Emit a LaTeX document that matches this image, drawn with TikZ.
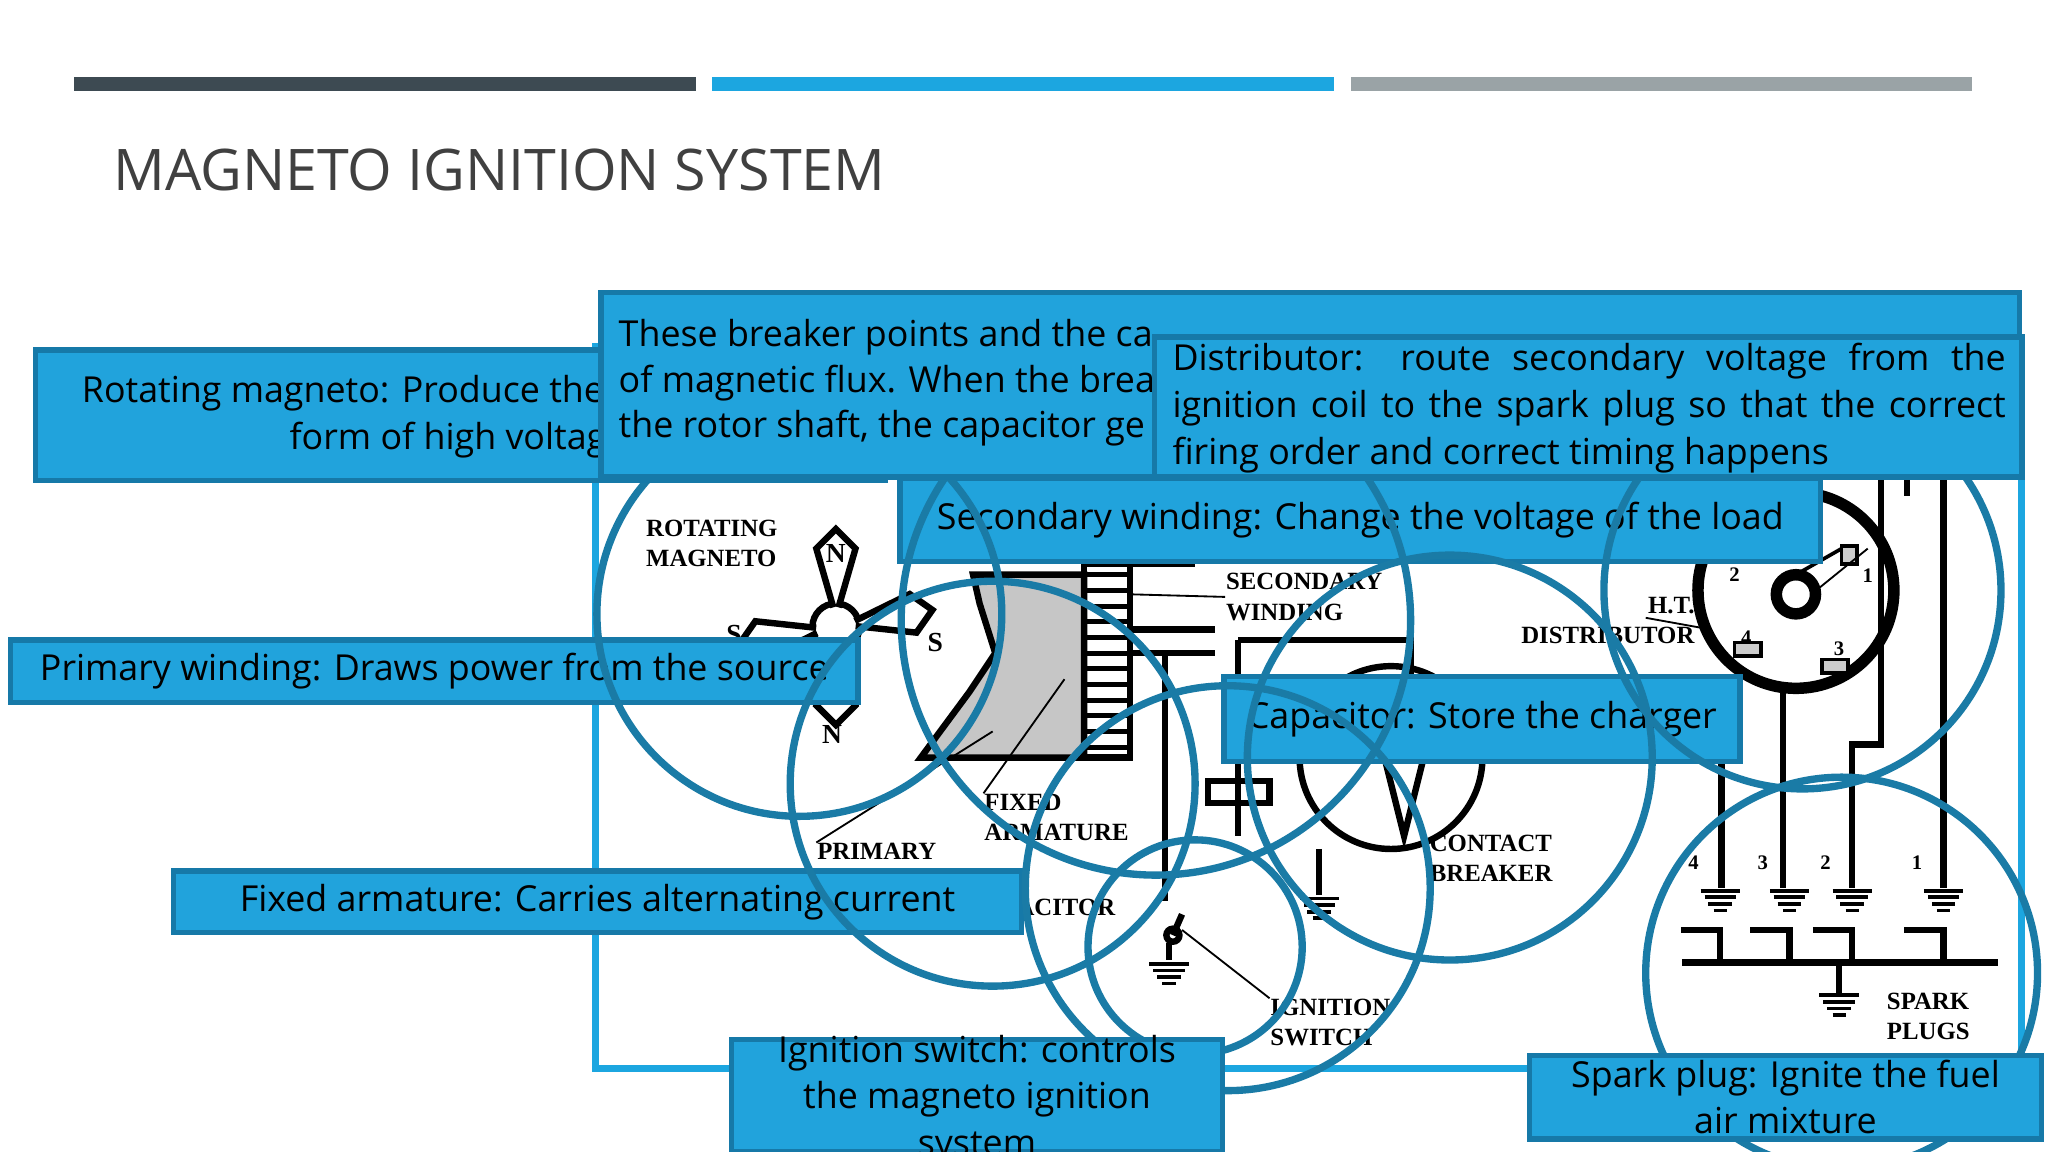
\documentclass[tikz,border=0pt]{standalone}
\usepackage{fontspec}
\setmainfont{Open Sans}
\newfontfamily\partfont{Liberation Serif}
\usetikzlibrary{positioning}
\definecolor{bardark}{HTML}{3D4A52}
\definecolor{barblue}{HTML}{1CA6E0}
\definecolor{bargray}{HTML}{9AA3A6}
\definecolor{boxfill}{HTML}{21A3DC}
\definecolor{boxline}{HTML}{1679A8}
\definecolor{ringcol}{HTML}{1A7BA6}
\definecolor{titlecol}{HTML}{404040}
\tikzset{
  note/.style={draw=boxline,fill=boxfill,line width=1.2pt,inner sep=0pt},
  notetext/.style={font=\fontsize{7.8}{10}\selectfont,inner sep=0pt,anchor=west},
  ring/.style={draw=ringcol,line width=1.6pt},
  lbl/.style={font=\partfont\bfseries\fontsize{5.4}{6.6}\selectfont,align=left,inner sep=0pt,anchor=west},
  wire/.style={draw=black,line width=1.4pt},
  leader/.style={draw=black,line width=0.4pt},
  gnd/.style={draw=black,line width=0.8pt}
}
\newcommand{\groundsym}[2]{%
  \draw[gnd] (#1-15,#2) -- (#1+15,#2) (#1-12,#2+5) -- (#1+12,#2+5) (#1-9,#2+10) -- (#1+9,#2+10) (#1-5,#2+15) -- (#1+5,#2+15);}
\begin{document}
\begin{tikzpicture}[x=0.1mm,y=-0.1mm]
\useasboundingbox (0,0) rectangle (1568,882);
\clip (0,0) rectangle (1568,882);
% bars and title
\fill[bardark] (57,59) rectangle (533,70);
\fill[barblue] (545,59) rectangle (1021,70);
\fill[bargray] (1034,59) rectangle (1510,70);
\node[anchor=west,text=titlecol,font=\fontsize{12.5}{15}\selectfont,inner sep=0pt] (title) at (86,130) {MAGNETO IGNITION SYSTEM};
% diagram frame
\draw[barblue,line width=1.5pt] (456,265) rectangle (1548,818);
% rotor
\draw[wire,fill=white] (640,480) circle (18);
\foreach \a/\t in {90/N,-10/S,270/N,170/S}{
  \draw[wire,fill=white,rotate around={-\a:(640,480)}] (655,478) -- (700,465) -- (715,480) -- (700,495) -- (655,482);
}
\node[font=\partfont\bfseries\fontsize{6}{7}\selectfont] (n1) at (640,424) {N};
\node[font=\partfont\bfseries\fontsize{6}{7}\selectfont] (s1) at (716,492) {S};
\node[font=\partfont\bfseries\fontsize{6}{7}\selectfont] (n2) at (637,562) {N};
\node[font=\partfont\bfseries\fontsize{6}{7}\selectfont] (s2) at (562,486) {S};
% armature core
\draw[wire,fill=gray!45] (745,440) -- (830,440) -- (830,580) -- (705,580) -- (742,530) -- (762,500) -- (750,462) -- cycle;
\draw[wire] (830,432) -- (915,432) (830,432) -- (830,580) -- (865,580) -- (865,432);
\foreach \y in {440,452,...,572} \draw[black,line width=1.1pt] (830,\y) -- (865,\y);
\draw[wire] (865,482) -- (930,482) (865,500) -- (930,500);
\draw[wire] (948,490) -- (1080,490) -- (1080,520) (948,490) -- (948,640);
\draw[wire] (892,500) -- (892,690);
% capacitor and cam
\draw[wire] (925,598) rectangle (972,615);
\draw[wire] (1065,580) circle (70);
\draw[wire] (1060,580) -- (1075,640) -- (1090,580);
\draw[wire] (1010,650) -- (1010,685);
\groundsym{1010}{688}
% ignition switch
\draw[wire] (898,716) circle (5);
\draw[wire] (898,716) -- (905,700);
\draw[wire] (895,722) -- (895,735);
\groundsym{895}{738}
% distributor
\draw[line width=2.5pt] (1375,452) circle (75);
\draw[line width=2.5pt] (1375,455) circle (15);
\draw[black,line width=0.8pt] (1375,440) -- (1410,420);
\draw[black,line width=0.8pt,fill=gray!40] (1410,418) rectangle (1422,432) (1328,492) rectangle (1348,502) (1395,505) rectangle (1415,515);
\node[font=\partfont\bfseries\fontsize{4.5}{5}\selectfont] (d1) at (1430,441) {1};
\node[font=\partfont\bfseries\fontsize{4.5}{5}\selectfont] (d2) at (1328,440) {2};
\node[font=\partfont\bfseries\fontsize{4.5}{5}\selectfont] (d3) at (1408,497) {3};
\node[font=\partfont\bfseries\fontsize{4.5}{5}\selectfont] (d4) at (1337,488) {4};
\draw[wire] (1440,365) -- (1440,570) -- (1418,570) -- (1418,680);
\draw[wire] (1460,365) -- (1460,380);
\draw[wire] (1318,520) -- (1318,680) (1365,525) -- (1365,680) (1488,365) -- (1488,680);
% spark plugs
\foreach \x/\n in {1317/4,1370/3,1418/2,1488/1}{
  \node[font=\partfont\bfseries\fontsize{4.5}{5}\selectfont,anchor=south east] at (\x-4,678) {\n};
  \groundsym{\x}{682}
  \draw[wire] (\x-30,712) -- (\x,712) -- (\x,735);
}
\draw[wire] (1288,737) -- (1530,737);
\draw[wire] (1408,737) -- (1408,760);
\groundsym{1408}{762}
% part labels
\node[lbl] (lrot) at (494,416) {ROTATING\\MAGNETO};
\node[lbl] (lsec) at (938,457) {SECONDARY\\WINDING};
\node[lbl,align=right,anchor=east] (ldis) at (1298,475) {H.T.\\DISTRIBUTOR};
\node[lbl] (lfix) at (753,626) {FIXED\\ARMATURE};
\node[lbl] (lpri) at (625,652) {PRIMARY};
\node[lbl] (lcap) at (740,695) {CAPACITOR};
\node[lbl] (lcon) at (1094,657) {CONTACT\\BREAKER};
\node[lbl] (lign) at (972,783) {IGNITION\\SWITCH};
\node[lbl] (lspk) at (1444,778) {SPARK\\PLUGS};
\draw[leader] (lsec.west) -- (865,455);
\draw[leader] (lfix.north west) -- (815,520);
\draw[leader] (lpri.north west) -- (760,560);
\draw[leader] (1260,473) -- (1310,482);
\draw[leader] (lign.north west) -- (905,712);
\draw[leader] (1393,450) -- (1430,420);
% lower notes
\node[note,minimum width=70.5mm,minimum height=6.4mm] (secbox) at (1041.5,398) {};
\node[notetext,anchor=center] at (secbox.center) {Secondary winding: Change the voltage of the load};
\node[note,minimum width=64.9mm,minimum height=4.8mm] (pribox) at (332.5,514) {};
\node[notetext,anchor=center] at (pribox.center) {Primary winding: Draws power from the source};
\node[note,minimum width=39.5mm,minimum height=6.5mm] (capbox) at (1134.5,550.5) {};
\node[notetext,anchor=center] at (capbox.center) {Capacitor: Store the charger};
\node[note,minimum width=64.9mm,minimum height=4.7mm] (fixbox) at (457.5,690.5) {};
\node[notetext,anchor=center] at (fixbox.center) {Fixed armature: Carries alternating current};
% rings
\draw[ring] (612,470) circle (155);
\draw[ring] (760,600) circle (155);
\draw[ring] (885,475) circle (195);
\draw[ring] (940,680) circle (155);
\draw[ring] (915,725) circle (82);
\draw[ring] (1110,580) circle (155);
\draw[ring] (1380,452) circle (152);
\draw[ring] (1410,745) circle (150);
% upper notes
\node[note,minimum width=65.1mm,minimum height=10mm] (rotbox) at (352.5,318) {};
\begin{scope}
\clip (27,268) rectangle (462,368);
\node[notetext] (rot1) at (62,301) {Rotating magneto: Produce the};
\node[notetext] (rot2) at (221,337) {form of high voltag};
\end{scope}
\node[note,minimum width=108.6mm,minimum height=14.1mm] (brkbox) at (1003,294.5) {};
\begin{scope}
\clip (460,224) rectangle (886,365);
\node[notetext] (brk1) at (473,258) {These breaker points and the ca};
\node[notetext] (brk2) at (473,293) {of magnetic flux. When the brea};
\node[notetext] (brk3) at (473,328) {the rotor shaft, the capacitor ge};
\end{scope}
\node[note,minimum width=66.4mm,minimum height=10.7mm] (disbox) at (1216,311.5) {};
\node[notetext,text width=63.8mm,align=justify,anchor=north west,font=\fontsize{7.8}{10.2}\selectfont] (dis) at (897,262) {Distributor: route secondary voltage from the\linebreak ignition coil to the spark plug so that the correct\linebreak firing order and correct timing happens};
\node[note,minimum width=37.6mm,minimum height=8.6mm] (ignbox) at (748,839) {};
\node[notetext,anchor=north,align=center,font=\fontsize{7.8}{10.1}\selectfont] (ign) at (748,792) {Ignition switch: controls\\the magneto ignition\\system};
\node[note,minimum width=39.2mm,minimum height=6.4mm] (spkbox) at (1367,840) {};
\node[notetext,anchor=center,align=center,font=\fontsize{7.8}{10.1}\selectfont] (spk) at (spkbox.center) {Spark plug: Ignite the fuel\\air mixture};
\end{tikzpicture}
\end{document}
